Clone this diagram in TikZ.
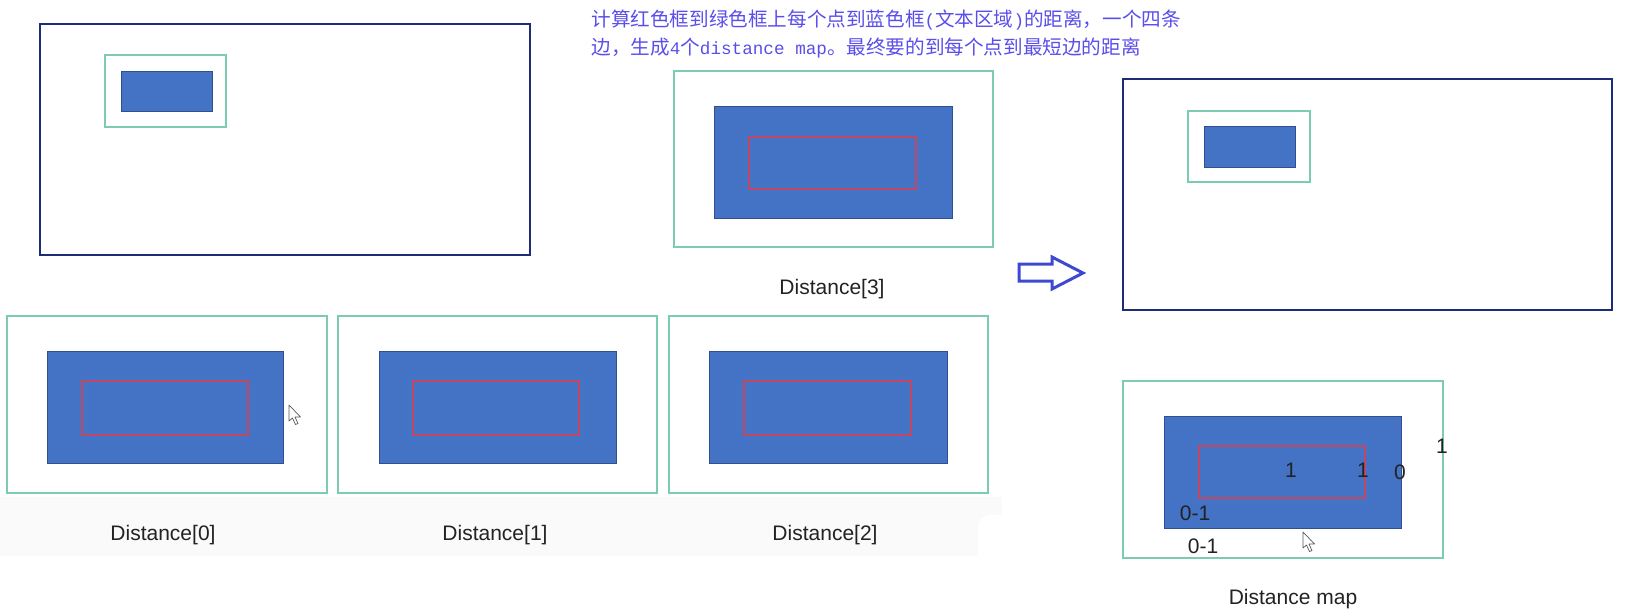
\documentclass[tikz,border=0pt]{standalone}
\usepackage{fontspec}
\setmainfont{Liberation Sans}
\newfontfamily\cjk{Noto Sans CJK SC}
\newfontfamily\cjkmono{Liberation Mono}[Scale=0.9]
\definecolor{navy}{HTML}{1E2C78}
\definecolor{mint}{HTML}{7CCDB0}
\definecolor{fillblue}{HTML}{4472C4}
\definecolor{edgeblue}{HTML}{2F4F8F}
\definecolor{redline}{HTML}{C04862}
\definecolor{arrowblue}{HTML}{3D49CF}
\definecolor{noteviolet}{HTML}{5A4EEA}
\definecolor{labelgray}{HTML}{222222}
\tikzset{
  pagebox/.style={draw=navy, line width=1.25pt},
  greenbox/.style={draw=mint, line width=0.8pt},
  bluebox/.style={fill=fillblue, draw=edgeblue, line width=0.4pt},
  redbox/.style={draw=redline, line width=0.6pt},
  caption/.style={text=labelgray, font=\fontsize{10.5pt}{12pt}\selectfont, inner sep=0pt},
  numlabel/.style={text=labelgray, font=\fontsize{10.5pt}{12pt}\selectfont, inner sep=0pt},
  note/.style={text=noteviolet, font=\cjk\fontsize{9.8pt}{11pt}\selectfont, inner sep=0pt, anchor=west},
  cursorshape/.style={fill=white, draw=gray!70!black, line width=0.35pt, line join=round},
}
\begin{document}
\begin{tikzpicture}[x=0.5pt, y=-0.5pt]
\useasboundingbox (0,0) rectangle (1626,612);
% faint screen-capture band
\fill[gray!4] (0,497) rectangle (1002,556);
\fill[white] (1002,515) -- (990,515) to[out=180,in=90] (978,527) -- (978,556) -- (1002,556) -- cycle;

% top-left page
\draw[pagebox] (40,24) rectangle (530,255);
\draw[greenbox] (105,55) rectangle (226,127);
\draw[bluebox] (121,71) rectangle (212,111);

% Distance[3]
\draw[greenbox] (674,71) rectangle (993,247);
\draw[bluebox] (714,106) rectangle (952,218);
\draw[redbox] (749,137) rectangle (916,189);
\node[caption] (c3) at (832,289) {Distance[3]};

% Distance[0]
\draw[greenbox] (7,316) rectangle (327,493);
\draw[bluebox] (47,351) rectangle (283,463);
\draw[redbox] (82,381) rectangle (248,435);
\node[caption] (c0) at (163,535) {Distance[0]};

% Distance[1]
\draw[greenbox] (338,316) rectangle (657,493);
\draw[bluebox] (379,351) rectangle (616,463);
\draw[redbox] (413,381) rectangle (579,435);
\node[caption] (c1) at (495,535) {Distance[1]};

% Distance[2]
\draw[greenbox] (669,316) rectangle (988,493);
\draw[bluebox] (709,351) rectangle (947,463);
\draw[redbox] (744,381) rectangle (911,435);
\node[caption] (c2) at (825,535) {Distance[2]};

% cursor in Distance[0]
\draw[cursorshape] (289,405) -- (289,421) -- (292.5,418) -- (295.5,424.5) -- (298,423.5) -- (295,417) -- (300.5,417) -- cycle;

% hollow arrow
\draw[arrowblue, line width=1.5pt, line join=miter] (1019,264) -- (1052,264) -- (1052,257) -- (1083,273) -- (1052,289) -- (1052,281) -- (1019,281) -- cycle;

% top-right page
\draw[pagebox] (1123,79) rectangle (1612,310);
\draw[greenbox] (1188,111) rectangle (1310,182);
\draw[bluebox] (1204,126) rectangle (1295,167);

% Distance map
\draw[greenbox] (1123,381) rectangle (1443,558);
\draw[bluebox] (1164,416) rectangle (1401,528);
\draw[redbox] (1199,446) rectangle (1365,498);
\node[numlabel] (m1) at (1291,470) {1};
\node[numlabel] (m2) at (1363,470) {1};
\node[numlabel] (m3) at (1400,472) {0};
\node[numlabel] (m4) at (1442,446) {1};
\node[numlabel] (m5) at (1195,513) {0-1};
\node[numlabel] (m6) at (1203,546) {0-1};
\node[caption] (cm) at (1293,599) {Distance map};
\draw[cursorshape] (1303,532) -- (1303,548) -- (1306.5,545) -- (1309.5,551.5) -- (1312,550.5) -- (1309,544) -- (1314.5,544) -- cycle;

% note text
\node[note] (n1) at (591,20) {计算红色框到绿色框上每个点到蓝色框{\cjkmono(}文本区域{\cjkmono)}的距离，一个四条};
\node[note] (n2) at (591,48) {边，生成{\cjkmono 4}个{\cjkmono distance map}。最终要的到每个点到最短边的距离};
\end{tikzpicture}
\end{document}
